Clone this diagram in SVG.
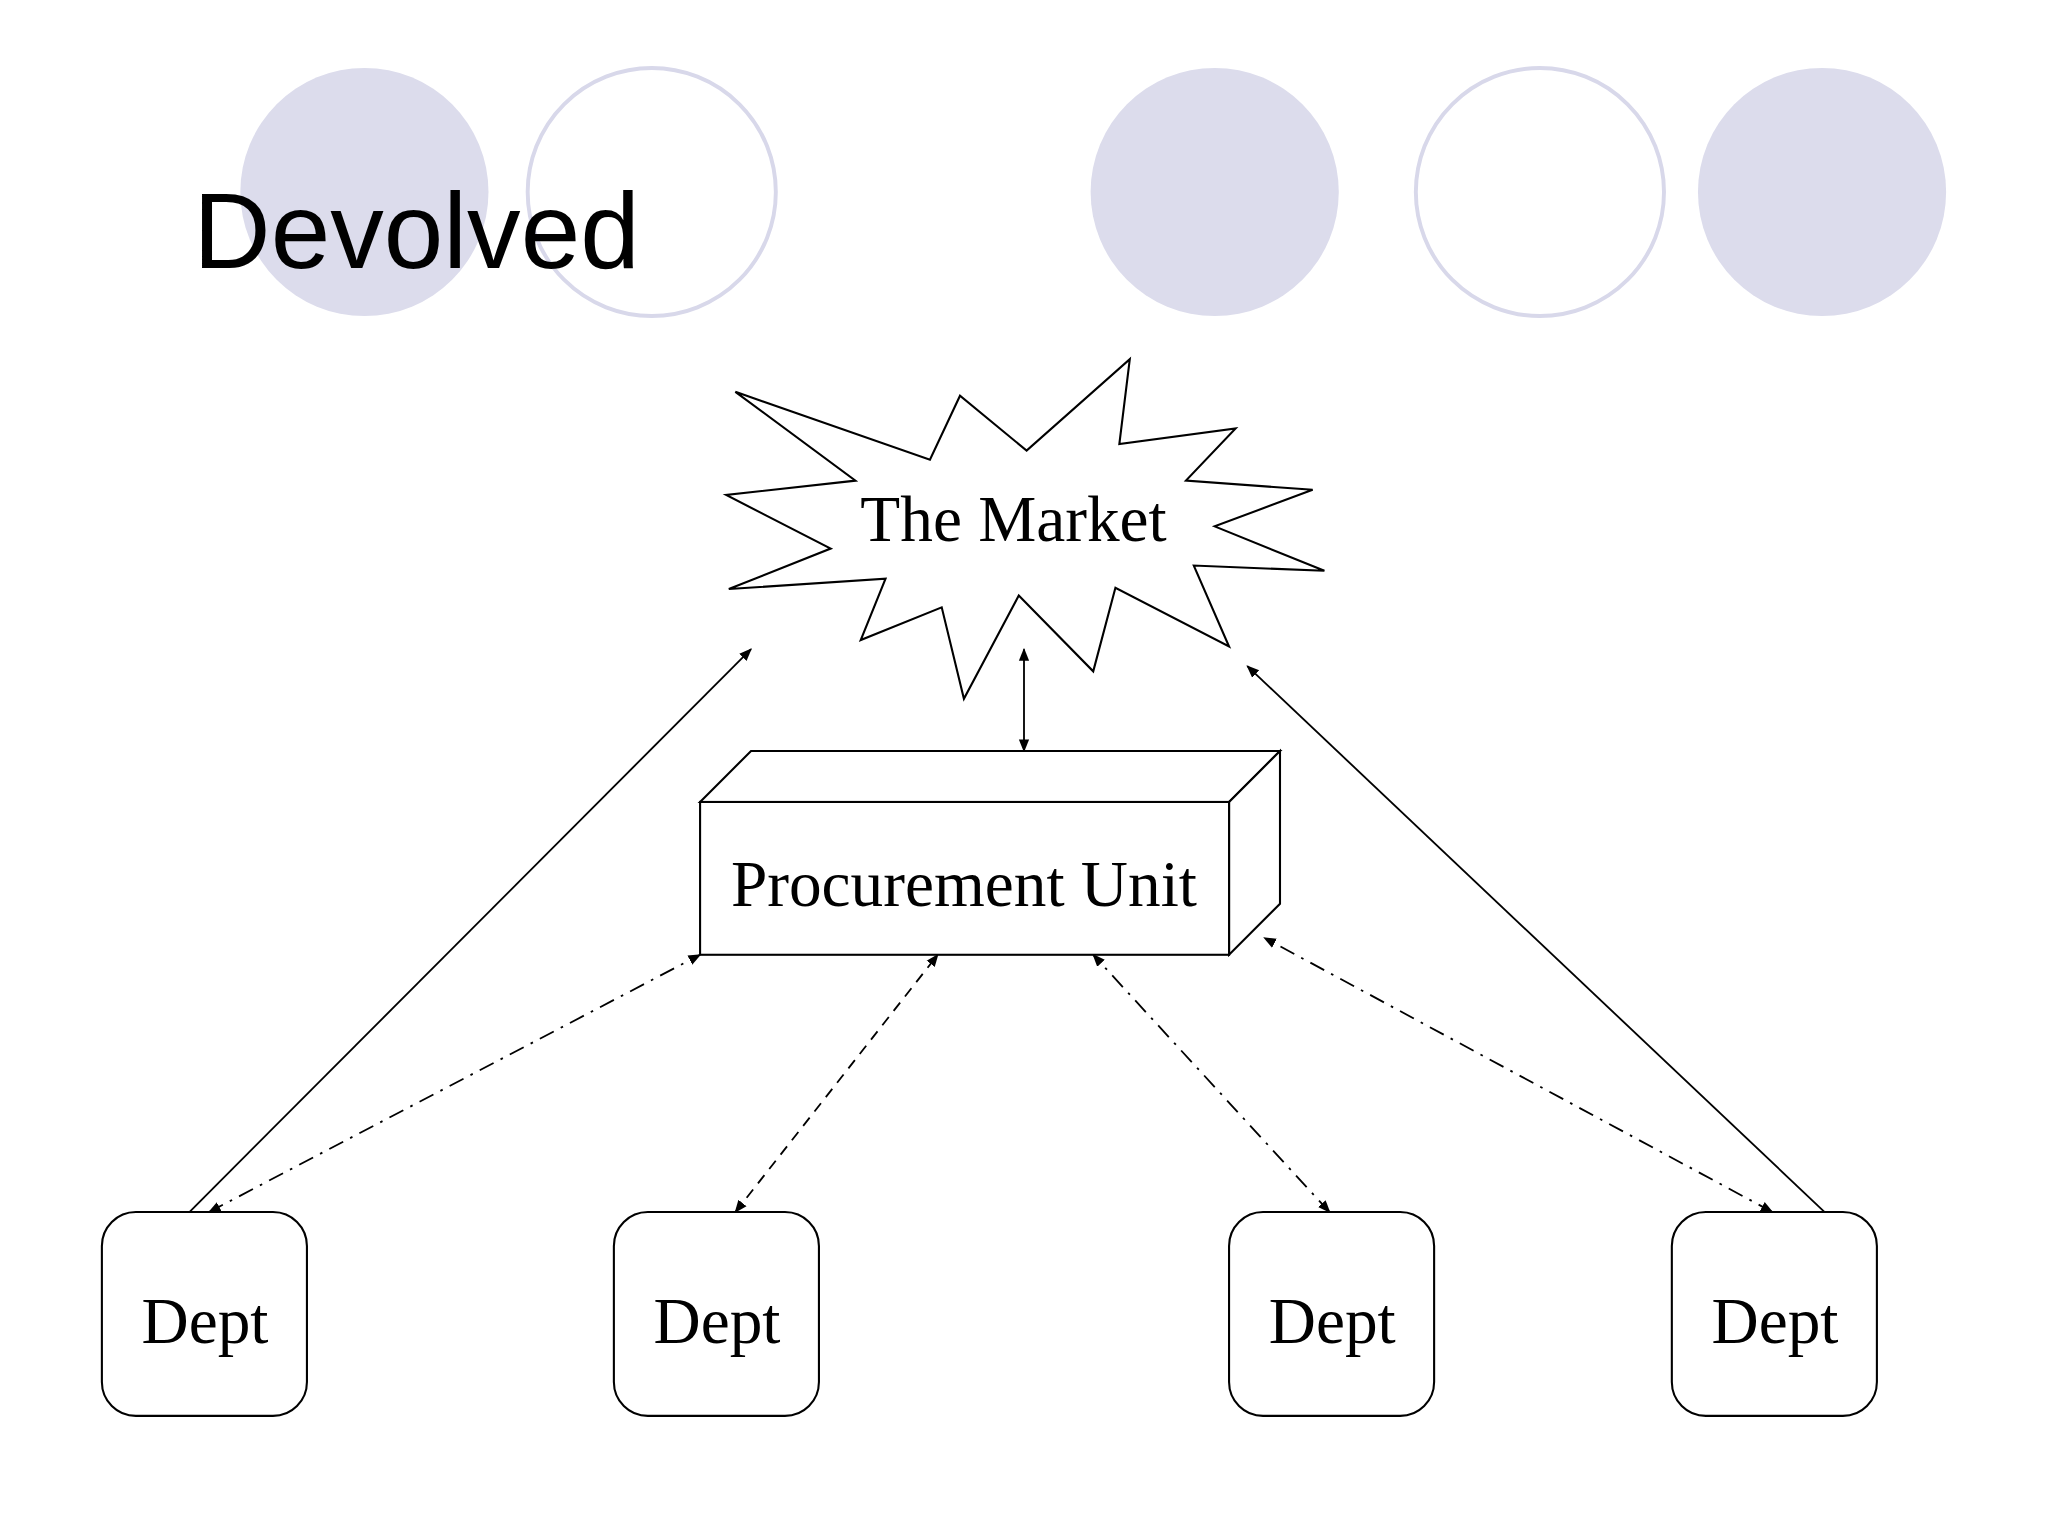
<svg xmlns="http://www.w3.org/2000/svg" width="2048" height="1536" viewBox="0 0 2048 1536">
<defs>
<style>
.f{fill:#dcdcec}.o{fill:#fff;stroke:#d8d8ea;stroke-width:3}
.s{fill:#fff;stroke:#000;stroke-width:1.6}
.t{font-family:"Liberation Serif",serif;font-size:50px;text-anchor:middle;fill:#000}
.c{fill:none;stroke:#000;stroke-width:1.4}
.dd{stroke-dasharray:12 6 2 6}.da{stroke-dasharray:8 6}
</style>
<marker id="a" viewBox="0 0 10 10" refX="9" refY="5" markerWidth="7" markerHeight="7" orient="auto-start-reverse"><path d="M0,1L10,5L0,9z" fill="#000"/></marker>
</defs>
<rect width="2048" height="1536" fill="#fff"/>
<g transform="scale(1.30612)">
<g id="decor">
<ellipse class="f" cx="279" cy="147" rx="95" ry="95"/>
<ellipse class="o" cx="499" cy="147" rx="95" ry="95"/>
<ellipse class="f" cx="930" cy="147" rx="95" ry="95"/>
<ellipse class="o" cx="1179" cy="147" rx="95" ry="95"/>
<ellipse class="f" cx="1395" cy="147" rx="95" ry="95"/>
<text x="148" y="205" font-family="Liberation Sans,sans-serif" font-size="82">Devolved</text>
</g>
<g id="connectors">
<line class="c" x1="145" y1="928" x2="575" y2="497" marker-end="url(#a)"/>
<line class="c" x1="1397" y1="928" x2="955" y2="510" marker-end="url(#a)"/>
<line class="c" x1="784" y1="497" x2="784" y2="575" marker-start="url(#a)" marker-end="url(#a)"/>
<line class="c dd" x1="160" y1="928" x2="536" y2="731" marker-start="url(#a)" marker-end="url(#a)"/>
<line class="c da" x1="563" y1="928" x2="718" y2="731" marker-start="url(#a)" marker-end="url(#a)"/>
<line class="c dd" x1="1018" y1="928" x2="837" y2="731" marker-start="url(#a)" marker-end="url(#a)"/>
<line class="c dd" x1="1357" y1="928" x2="968" y2="718" marker-start="url(#a)" marker-end="url(#a)"/>
</g>
<g id="market">
<polygon class="s" points="563,300 712,352 735,303 786,345 865,275 857,340 946,328 908,368 1005,375 930,403 1014,437 914,433 941,495 854,450 837,514 780,456 738,535 721,465 659,490 678,443 558,451 636,420 556,379 655,368"/>
<text class="t" x="776" y="414">The Market</text>
</g>
<g id="procurement">
<polygon class="s" points="536,614 575,575 980,575 941,614"/>
<polygon class="s" points="941,614 980,575 980,692 941,731"/>
<rect class="s" x="536" y="614" width="405" height="117"/>
<text class="t" x="738" y="694">Procurement Unit</text>
</g>
<g id="dept1"><rect class="s" x="78" y="928" width="157" height="156" rx="26"/><text class="t" x="157" y="1028">Dept</text></g>
<g id="dept2"><rect class="s" x="470" y="928" width="157" height="156" rx="26"/><text class="t" x="549" y="1028">Dept</text></g>
<g id="dept3"><rect class="s" x="941" y="928" width="157" height="156" rx="26"/><text class="t" x="1020" y="1028">Dept</text></g>
<g id="dept4"><rect class="s" x="1280" y="928" width="157" height="156" rx="26"/><text class="t" x="1359" y="1028">Dept</text></g>
</g>
</svg>
